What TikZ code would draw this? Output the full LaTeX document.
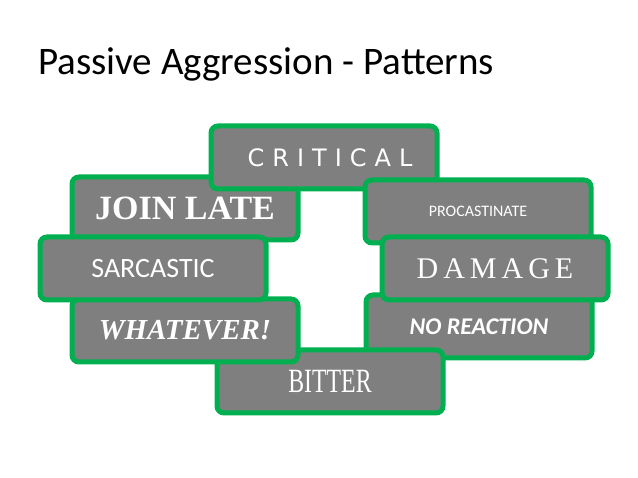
\documentclass[tikz,border=0pt]{standalone}
\usepackage{fontspec}
\setmainfont{Carlito}
\newfontfamily\serifb{Liberation Serif}
\newfontfamily\djfont{DejaVu Sans}
\begin{document}
\begin{tikzpicture}[x=1pt,y=-1pt]
\definecolor{gb}{RGB}{0,176,80}
\definecolor{gf}{RGB}{127,127,127}
\tikzset{pbox/.style={draw=gb, fill=gf, line width=5pt, rounded corners=7pt, text=white, minimum width=226pt, minimum height=63pt, anchor=north west, inner sep=0pt}}
\useasboundingbox (0,0) rectangle (638,478);
\node[anchor=west, font=\fontsize{39}{44}\selectfont, inner sep=0pt] (title) at (38,64) {Passive Aggression - Patterns};
\node[pbox] (join) at (69.5,174.5) {\serifb\bfseries\fontsize{34}{38}\selectfont JOIN LATE};
\node[pbox] (crit) at (208.5,123.5) {\hspace*{12pt}\djfont\fontsize{24}{28}\selectfont C\,\,R\,\,I\,\,T\,\,I\,\,C\,\,A\,\,L};
\node[pbox] (proc) at (362.5,177.5) {\fontsize{16}{19}\selectfont PROCASTINATE};
\node[pbox] (norx) at (363.5,292.5) {\itshape\bfseries\fontsize{24}{28}\selectfont NO REACTION};
\node[pbox] (bitter) at (214.5,347.5) {\serifb\fontsize{34}{38}\selectfont\raisebox{-4pt}{\scalebox{0.7}[1]{BITTER}}};
\node[pbox] (what) at (69.5,296.5) {\serifb\itshape\bfseries\fontsize{29}{33}\selectfont WHATEVER!};
\node[pbox] (sarc) at (37.5,234.5) {\fontsize{28}{32}\selectfont SARCASTIC};
\node[pbox] (dmg) at (379.5,234.5) {\serifb\fontsize{30}{34}\selectfont D\,A\,M\,A\,G\,E};
\end{tikzpicture}
\end{document}
